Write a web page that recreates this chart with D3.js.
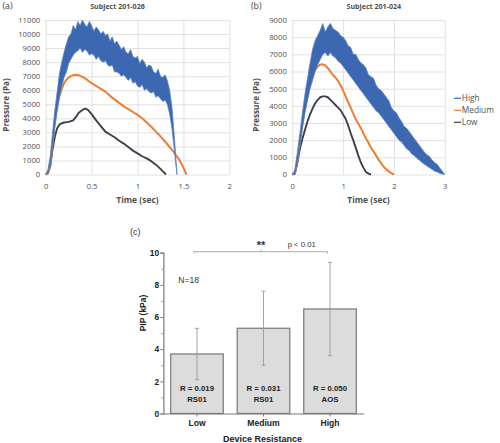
<!DOCTYPE html>
<html>
<head>
<meta charset="utf-8">
<script src="https://cdn.jsdelivr.net/npm/d3@7/dist/d3.min.js"></script>
<style>
  html, body { margin: 0; padding: 0; background: #fff; }
  svg { display: block; }
</style>
</head>
<body>
<svg id="chart" width="500" height="443"></svg>
<script>
// ---------------- DATA ----------------
// Panel (a) Subject 201-026
const aHighT  = [0,.025,.05,.075,.1,.125,.15,.175,.2,.225,.25,.275,.3,.325,.35,.375,.4,.425,.45,.475,.5,.525,.55,.575,.6,.625,.65,.675,.7,.725,.75,.775,.8,.825,.85,.875,.9,.925,.95,.975,1.0,1.025,1.05,1.075,1.1,1.125,1.15,1.175,1.2,1.225,1.25,1.275,1.3,1.325,1.35,1.375,1.4,1.43];
const aHighUp = [0,350,1300,3000,4600,5900,7200,8000,8700,9300,9800,10000,10600,10300,10900,10600,11000,10700,10500,10900,10600,10200,10500,10300,10000,10200,9900,10000,9500,9800,9300,9500,9200,8900,9100,8700,8600,8900,8400,8300,8400,7900,8200,8000,7600,7800,7700,7300,7200,7500,7000,6900,7100,6700,6000,4800,2800,0];
const aHighLo = [0,100,600,2000,3400,4500,5500,6300,6900,7300,7900,8200,8500,8700,8800,9000,8700,8900,8800,8500,8600,8500,8200,8400,8100,8000,8100,7800,7700,7800,7300,7300,7200,7000,7100,6900,6700,6900,6500,6600,6300,6200,6400,6000,6100,5900,5800,5900,5500,5600,5400,5200,5300,5000,4300,3300,1800,0];
const aMedT   = [0,.025,.05,.075,.1,.125,.15,.175,.2,.225,.25,.275,.3,.325,.35,.375,.4,.45,.5,.55,.6,.65,.7,.75,.8,.85,.9,.95,1,1.05,1.1,1.15,1.2,1.25,1.3,1.35,1.4,1.45,1.5,1.533];
const aMedV   = [0,150,700,2200,3800,4900,5600,6100,6500,6750,6900,7000,7080,7100,7080,7020,6950,6750,6500,6300,6100,5900,5600,5350,5100,4850,4650,4450,4250,4000,3700,3400,3050,2720,2350,1950,1550,1100,500,0];
const aLowT   = [0,.025,.05,.075,.1,.125,.15,.175,.2,.25,.3,.33,.36,.4,.43,.46,.5,.55,.6,.65,.7,.75,.8,.85,.9,.95,1,1.05,1.1,1.15,1.2,1.25,1.28,1.31];
const aLowV   = [0,100,600,1800,2700,3300,3550,3650,3700,3750,3850,4100,4400,4600,4700,4600,4300,3850,3450,3050,2850,2650,2400,2200,1950,1700,1500,1300,1150,950,700,400,200,0];

// Panel (b) Subject 201-024
const bHighT  = [0,.05,.1,.15,.2,.25,.3,.35,.4,.45,.5,.55,.6,.65,.7,.75,.8,.85,.9,.95,1,1.05,1.1,1.15,1.2,1.25,1.3,1.35,1.4,1.45,1.5,1.55,1.6,1.65,1.7,1.75,1.8,1.85,1.9,1.95,2,2.05,2.1,2.15,2.2,2.25,2.3,2.35,2.4,2.45,2.5,2.55,2.6,2.65,2.7,2.75,2.8,2.85,2.9,2.95,3];
const bHighUp = [0,250,1300,2400,3600,4700,5600,6500,7300,7800,8100,8400,8800,8300,8600,8800,8500,8400,8300,8100,8000,7800,7500,7400,7000,7000,6700,6500,6400,6200,5800,5700,5600,5200,5000,4900,4700,4500,4300,3900,3700,3600,3300,3100,2800,2700,2500,2300,2100,1900,1700,1500,1300,1150,1050,850,700,600,400,200,0];
const bHighLo = [0,0,600,1700,2700,3600,4300,5000,5500,6000,6400,6700,7000,7100,6900,7100,6900,6800,6600,6500,6300,6100,5900,5700,5500,5300,5100,4900,4700,4500,4300,4100,3900,3700,3600,3400,3200,3000,2800,2600,2400,2200,2000,1900,1700,1500,1400,1200,1100,950,850,700,600,500,400,300,200,150,80,30,0];
const bMedT   = [0,.05,.1,.15,.2,.25,.3,.35,.4,.45,.5,.55,.6,.65,.7,.75,.8,.85,.9,.95,1,1.05,1.1,1.15,1.2,1.25,1.3,1.35,1.4,1.45,1.5,1.55,1.6,1.65,1.7,1.75,1.8,1.85,1.9,1.95,2];
const bMedV   = [0,50,800,1900,3000,4000,4800,5400,5800,6100,6300,6400,6420,6350,6200,6000,5800,5650,5450,5200,4900,4550,4200,3900,3550,3200,2950,2700,2400,2100,1850,1550,1350,1100,850,650,450,300,180,80,0];
const bLowT   = [0,.05,.1,.15,.2,.25,.3,.35,.4,.45,.5,.55,.6,.65,.7,.75,.8,.85,.9,.95,1,1.05,1.1,1.15,1.2,1.25,1.3,1.35,1.4,1.45,1.5,1.55];
const bLowV   = [0,50,700,1500,2100,2600,3100,3500,3850,4150,4350,4500,4550,4550,4500,4350,4200,4050,3900,3750,3500,3250,2850,2400,2000,1550,1100,700,400,150,50,0];

const aXTicks = [0, 0.5, 1, 1.5, 2];
const aYTicks = [0,1000,2000,3000,4000,5000,6000,7000,8000,9000,10000,11000];
const bXTicks = [0, 1, 2, 3];
const bYTicks = [0,1000,2000,3000,4000,5000,6000,7000,8000,9000];
const seriesNames = ["High", "Medium", "Low"];

// Panel (c)
const cCats   = ["Low", "Medium", "High"];
const cMeans  = [3.7, 5.3, 6.5];
const cErrLo  = [2.1, 3.0, 3.6];
const cErrHi  = [5.3, 7.6, 9.4];
const cRText  = ["R = 0.019", "R = 0.031", "R = 0.050"];
const cDevice = ["RS01", "RS01", "AOS"];
const cYTicks = [0, 2, 4, 6, 8, 10];
const cYMinor = [1, 3, 5, 7, 9];

// ---------------- STYLE ----------------
const COL_HIGH = "#3b68b0", COL_HIGH_EDGE = "#5c84c2";
const COL_MED = "#ee7d31", COL_LOW = "#3d414d";
const GRID = "#d9d9d9", TXT = "#505050";
const XLF = "'Open Sans', 'Noto Sans', sans-serif";
const ARF = "'Liberation Sans', Arial, sans-serif";

const svg = d3.select("#chart");

function panel(cfg) {
  const g = svg.append("g");
  const x = d3.scaleLinear().domain([0, cfg.xmax]).range([cfg.x0, cfg.x1]);
  const y = d3.scaleLinear().domain([0, cfg.ymax]).range([174.5, 20]);

  const ya = g.append("g").attr("transform", `translate(${cfg.x0},0)`)
    .call(d3.axisLeft(y).tickValues(cfg.yTicks).tickSize(-(cfg.x1 - cfg.x0)).tickPadding(5.5).tickFormat(d3.format("d")));
  const xa = g.append("g").attr("transform", `translate(0,174.5)`)
    .call(d3.axisBottom(x).tickValues(cfg.xTicks).tickSize(-(174.5 - 20)).tickPadding(9).tickFormat(d => d3.format("")(d)));
  [ya, xa].forEach(a => {
    a.select(".domain").remove();
    a.selectAll("line").attr("stroke", GRID).attr("stroke-width", 0.8);
    a.selectAll("text").attr("fill", TXT).attr("font-family", XLF).attr("font-size", 7.7);
  });

  const line = (T, V) => d3.line().x((d, i) => x(T[i])).y(d => y(d))(V);
  g.append("path").attr("d", line(cfg.lowT, cfg.lowV)).attr("fill", "none")
    .attr("stroke", COL_LOW).attr("stroke-width", 1.9).attr("stroke-linejoin", "round");
  g.append("path").attr("d", line(cfg.medT, cfg.medV)).attr("fill", "none")
    .attr("stroke", COL_MED).attr("stroke-width", 2).attr("stroke-linejoin", "round");
  const idx = d3.range(cfg.hiT.length);
  const area = d3.area().x(i => x(cfg.hiT[i])).y0(i => y(cfg.hiLo[i])).y1(i => y(cfg.hiUp[i]));
  g.append("path").attr("d", area(idx)).attr("fill", COL_HIGH)
    .attr("stroke", COL_HIGH_EDGE).attr("stroke-width", 0.8).attr("stroke-linejoin", "round");

  g.append("text").attr("x", cfg.labX).attr("y", 8.8).text(cfg.label)
    .attr("font-family", XLF).attr("font-size", 8.8).attr("fill", "#404040");
  g.append("text").attr("x", cfg.titleX).attr("y", 8.6).attr("text-anchor", "middle").text(cfg.title)
    .attr("font-family", XLF).attr("font-size", 7.1).attr("font-weight", "bold").attr("fill", TXT);
  g.append("text").attr("x", (cfg.x0 + cfg.x1) / 2).attr("y", 202.5).attr("text-anchor", "middle")
    .text("Time (sec)").attr("font-family", XLF).attr("font-size", 8.5).attr("font-weight", "bold").attr("fill", TXT);
  g.append("text").attr("transform", `translate(${cfg.ylabX},105) rotate(-90)`).attr("text-anchor", "middle")
    .text("Pressure (Pa)").attr("font-family", XLF).attr("font-size", 8.2).attr("font-weight", "bold").attr("fill", TXT);
}

panel({x0: 45.7, x1: 229.3, xmax: 2, ymax: 11000, xTicks: aXTicks, yTicks: aYTicks,
  hiT: aHighT, hiUp: aHighUp, hiLo: aHighLo, medT: aMedT, medV: aMedV, lowT: aLowT, lowV: aLowV,
  label: "(a)", labX: 2.5, title: "Subject 201-026", titleX: 117.5, ylabX: 9.2});
panel({x0: 292.3, x1: 444.7, xmax: 3, ymax: 9000, xTicks: bXTicks, yTicks: bYTicks,
  hiT: bHighT, hiUp: bHighUp, hiLo: bHighLo, medT: bMedT, medV: bMedV, lowT: bLowT, lowV: bLowV,
  label: "(b)", labX: 251, title: "Subject 201-024", titleX: 373.8, ylabX: 259.2});

// legend
const legCols = [COL_HIGH, COL_MED, COL_LOW];
const leg = svg.append("g");
seriesNames.forEach((s, i) => {
  const yy = 98.3 + i * 12;
  leg.append("line").attr("x1", 454).attr("x2", 461).attr("y1", yy).attr("y2", yy)
    .attr("stroke", legCols[i]).attr("stroke-width", 1.2);
  leg.append("text").attr("x", 461.8).attr("y", yy + 2.9).text(s)
    .attr("font-family", XLF).attr("font-size", 8.3).attr("fill", TXT);
});

// ---------------- PANEL (c) ----------------
const gc = svg.append("g");
const xC = d3.scaleBand().domain(cCats).range([163.4, 363.6]).paddingInner(0.21).paddingOuter(0.11);
const yC = d3.scaleLinear().domain([0, 10]).range([413.5, 252.7]);
const AX = "#7a7a7a";

gc.selectAll("rect.bar").data(cCats).join("rect").attr("class", "bar")
  .attr("x", d => xC(d)).attr("width", xC.bandwidth())
  .attr("y", (d, i) => yC(cMeans[i])).attr("height", (d, i) => yC(0) - yC(cMeans[i]))
  .attr("fill", "#dcdcdc").attr("stroke", "#808080").attr("stroke-width", 1.3);

cCats.forEach((c, i) => {
  const cx = xC(c) + xC.bandwidth() / 2;
  gc.append("line").attr("x1", cx).attr("x2", cx).attr("y1", yC(cErrLo[i])).attr("y2", yC(cErrHi[i]))
    .attr("stroke", "#9a9a9a").attr("stroke-width", 0.9);
  [cErrLo[i], cErrHi[i]].forEach(v => gc.append("line").attr("x1", cx - 2).attr("x2", cx + 2)
    .attr("y1", yC(v)).attr("y2", yC(v)).attr("stroke", "#9a9a9a").attr("stroke-width", 0.9));
  gc.append("text").attr("x", cx).attr("y", 391).attr("text-anchor", "middle").text(cRText[i])
    .attr("font-family", ARF).attr("font-size", 7.8).attr("font-weight", "bold").attr("fill", "#222");
  gc.append("text").attr("x", cx).attr("y", 402).attr("text-anchor", "middle").text(cDevice[i])
    .attr("font-family", ARF).attr("font-size", 7.8).attr("font-weight", "bold").attr("fill", "#222");
});

const yAx = gc.append("g").attr("transform", "translate(163.4,0)")
  .call(d3.axisLeft(yC).tickValues(cYTicks).tickSize(3).tickPadding(1.3).tickFormat(d3.format("d")));
yAx.select(".domain").attr("stroke", AX).attr("stroke-width", 1.2);
yAx.selectAll("line").attr("stroke", AX).attr("stroke-width", 1);
yAx.selectAll("text").attr("font-family", ARF).attr("font-size", 8.4).attr("font-weight", "bold").attr("fill", "#222");
const yMin = gc.append("g").attr("transform", "translate(163.4,0)")
  .call(d3.axisLeft(yC).tickValues(cYMinor).tickSize(2).tickFormat(""));
yMin.select(".domain").remove();
yMin.selectAll("line").attr("stroke", AX).attr("stroke-width", 0.8);

const xAx = gc.append("g").attr("transform", "translate(0,413.5)")
  .call(d3.axisBottom(xC).tickSize(3).tickSizeOuter(0).tickPadding(3.5));
xAx.select(".domain").attr("stroke", AX).attr("stroke-width", 1.2);
xAx.selectAll("line").attr("stroke", AX).attr("stroke-width", 1);
xAx.selectAll("text").attr("font-family", ARF).attr("font-size", 8.6).attr("font-weight", "bold").attr("fill", "#222");

gc.append("text").attr("x", xC.range()[0] + (xC.range()[1] - xC.range()[0]) / 2 - 1).attr("y", 442)
  .attr("text-anchor", "middle").text("Device Resistance")
  .attr("font-family", ARF).attr("font-size", 9).attr("font-weight", "bold").attr("fill", "#222");
gc.append("text").attr("transform", "translate(145.5,313) rotate(-90)").attr("text-anchor", "middle")
  .text("PIP (kPa)").attr("font-family", ARF).attr("font-size", 8.5).attr("font-weight", "bold").attr("fill", "#222");
gc.append("text").attr("x", 130).attr("y", 235).text("(c)")
  .attr("font-family", ARF).attr("font-size", 9).attr("fill", "#333");
gc.append("text").attr("x", 178.3).attr("y", 282.7).text("N=18")
  .attr("font-family", ARF).attr("font-size", 8.5).attr("fill", "#333");

const bx1 = xC("Low") + xC.bandwidth() / 2 - 3, bx2 = xC("High") + xC.bandwidth() / 2 - 2.5, byy = 251.7;
const bmid = xC("Medium") + xC.bandwidth() / 2 - 2.5;
gc.append("path").attr("d", `M${bx1},${byy + 2}V${byy}H${bx2}V${byy + 2}M${bmid},${byy}V${byy - 2}`)
  .attr("fill", "none").attr("stroke", "#a0a0a0").attr("stroke-width", 0.9);
gc.append("text").attr("x", bmid).attr("y", 248.5).attr("text-anchor", "middle").text("**")
  .attr("font-family", ARF).attr("font-size", 11).attr("font-weight", "bold").attr("fill", "#333");
gc.append("text").attr("x", 301.7).attr("y", 246.5).attr("text-anchor", "middle").text("p < 0.01")
  .attr("font-family", ARF).attr("font-size", 7.7).attr("fill", "#333");
</script>
</body>
</html>
